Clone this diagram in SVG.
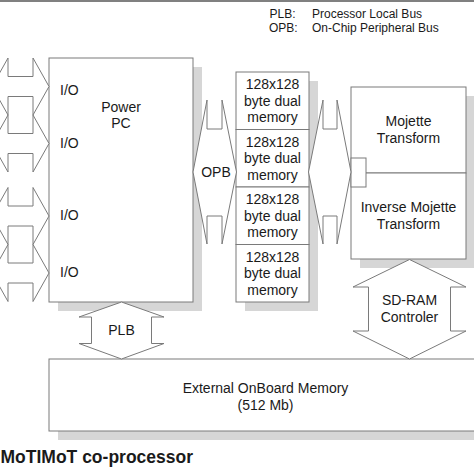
<svg xmlns="http://www.w3.org/2000/svg" width="474" height="474" viewBox="0 0 474 474">
<style>
.box{fill:#fff;stroke:#7a7a7a;stroke-width:1}
.sh{fill:#d6d6d6;stroke:none}
.arr{fill:#fff;stroke:#7a7a7a;stroke-width:1;stroke-linejoin:miter}
text{font-family:"Liberation Sans",Arial,sans-serif;font-size:14px;fill:#1a1a1a}
.c{text-anchor:middle}
.lg{font-size:12px}
.t{font-weight:bold;font-size:17.5px}
</style>
<rect x="0" y="0" width="474" height="2" fill="#808080"/>
<g id="legend">
<text class="lg" x="269.5" y="18">PLB:</text>
<text class="lg" x="312" y="18">Processor Local Bus</text>
<text class="lg" x="269" y="32">OPB:</text>
<text class="lg" x="312" y="32">On-Chip Peripheral Bus</text>
</g>
<g id="powerpc">
<rect class="sh" x="58" y="67" width="144" height="244"/>
<rect class="box" x="49" y="58" width="144" height="244"/>
<text class="c" x="121" y="111.5">Power</text>
<text class="c" x="121" y="128">PC</text>
<text x="60" y="95">I/O</text>
<text x="60" y="148">I/O</text>
<text x="60" y="220">I/O</text>
<text x="60" y="277">I/O</text>
</g>
<g id="memory">
<rect class="sh" x="245" y="81" width="73" height="230"/>
<rect class="box" x="236" y="72" width="73" height="57.5"/>
<rect class="box" x="236" y="129.5" width="73" height="57.5"/>
<rect class="box" x="236" y="187" width="73" height="57.5"/>
<rect class="box" x="236" y="244.5" width="73" height="57.5"/>
<text class="c" x="272.5" y="89">128x128</text>
<text class="c" x="272.5" y="105.5">byte dual</text>
<text class="c" x="272.5" y="122">memory</text>
<text class="c" x="272.5" y="146.5">128x128</text>
<text class="c" x="272.5" y="163">byte dual</text>
<text class="c" x="272.5" y="179.5">memory</text>
<text class="c" x="272.5" y="204">128x128</text>
<text class="c" x="272.5" y="220.5">byte dual</text>
<text class="c" x="272.5" y="237">memory</text>
<text class="c" x="272.5" y="261.5">128x128</text>
<text class="c" x="272.5" y="278">byte dual</text>
<text class="c" x="272.5" y="294.5">memory</text>
</g>
<g id="mojette">
<rect class="sh" x="360" y="96" width="115" height="172"/>
<rect class="box" x="351" y="87" width="115" height="86"/>
<rect class="box" x="351" y="173" width="115" height="86"/>
<rect class="box" x="351" y="158" width="15" height="29"/>
<text class="c" x="408.5" y="125.5">Mojette</text>
<text class="c" x="408.5" y="142.5">Transform</text>
<text class="c" x="408.5" y="212">Inverse Mojette</text>
<text class="c" x="408.5" y="229">Transform</text>
</g>
<g id="external">
<rect class="sh" x="58" y="368" width="433" height="72"/>
<rect class="box" x="49" y="359" width="433" height="72"/>
<text class="c" x="265.5" y="393">External OnBoard Memory</text>
<text class="c" x="265.5" y="409.5">(512 Mb)</text>
</g>
<g id="connectors">
<polygon class="arr" points="-8,86.5 8,58 8,76.5 33,76.5 33,58 49,86.5 33,115 33,96.5 8,96.5 8,115"/>
<polygon class="arr" points="-8,143.5 8,115 8,133.5 33,133.5 33,115 49,143.5 33,172 33,153.5 8,153.5 8,172"/>
<polygon class="arr" points="-8,216 8,187.5 8,206 33,206 33,187.5 49,216 33,244.5 33,226 8,226 8,244.5"/>
<polygon class="arr" points="-8,273 8,244.5 8,263 33,263 33,244.5 49,273 33,301.5 33,283 8,283 8,301.5"/>
<polygon class="arr" points="193,172 207,100 207,129 222,129 222,100 236.5,172 222,244 222,216 207,216 207,244"/>
<polygon class="arr" points="308.5,172 323,100 323,129 337,129 337,100 351,172 337,244 337,216 323,216 323,244"/>
<polygon class="arr" points="121.5,302 164,317 151.5,317 151.5,343.5 164,343.5 121.5,359 79,343.5 91.5,343.5 91.5,317 79,317"/>
<polygon class="arr" points="409.5,259.5 466,287 450.5,287 450.5,331 466,331 409.5,359 353,331 368.5,331 368.5,287 353,287"/>
<text class="c" x="216" y="177">OPB</text>
<text class="c" x="121.5" y="335">PLB</text>
<text class="c" x="409.5" y="305">SD-RAM</text>
<text class="c" x="409.5" y="321.5">Controler</text>
</g>
<text class="t" x="0.5" y="463">MoTIMoT co-processor</text>
</svg>
